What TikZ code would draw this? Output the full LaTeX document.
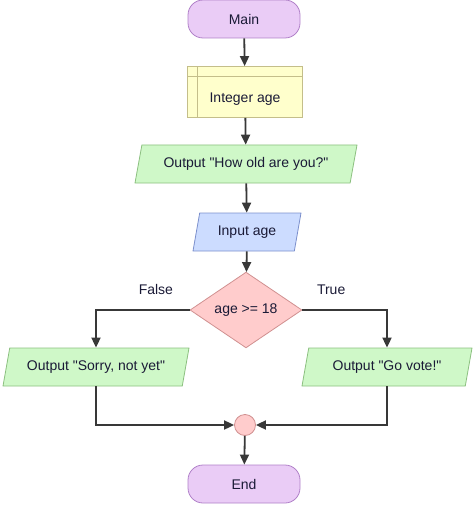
\documentclass[tikz,border=0pt]{standalone}
\usepackage{fontspec}
\setmainfont{Liberation Sans}[Ligatures=TeXOff]
\usepackage{tikz}
\usetikzlibrary{arrows.meta,positioning,shapes.geometric,calc}

\definecolor{termfill}{HTML}{EACCF6}
\definecolor{termdraw}{HTML}{B080C8}
\definecolor{declfill}{HTML}{FFFFCC}
\definecolor{decldraw}{HTML}{C4BE8A}
\definecolor{outfill}{HTML}{CFF8C8}
\definecolor{outdraw}{HTML}{8CC080}
\definecolor{infill}{HTML}{CCDCFF}
\definecolor{indraw}{HTML}{7C90CC}
\definecolor{decfill}{HTML}{FFCCCC}
\definecolor{decdraw}{HTML}{D09090}
\definecolor{linecol}{HTML}{383838}
\definecolor{txtcol}{HTML}{1A1A36}

\begin{document}
\begin{tikzpicture}[
    x=1pt, y=1pt,
    font=\fontsize{14}{16}\selectfont,
    baseblock/.style={draw, line width=0.8pt, text=txtcol, align=center,
                      inner sep=2pt},
    termblock/.style={baseblock, fill=termfill, draw=termdraw,
                      rounded corners=15pt, minimum width=112pt,
                      minimum height=38pt},
    declblock/.style={baseblock, fill=declfill, draw=decldraw,
                      minimum width=115pt, minimum height=51pt,
                      path picture={
                        \draw[decldraw, line width=0.8pt]
                          ([yshift=-10pt]path picture bounding box.north west)
                          -- ([yshift=-10pt]path picture bounding box.north east);
                        \draw[decldraw, line width=0.8pt]
                          ([xshift=10pt]path picture bounding box.north west)
                          -- ([xshift=10pt]path picture bounding box.south west);
                      }},
    ioblock/.style={baseblock, trapezium, trapezium left angle=68,
                    trapezium right angle=112, trapezium stretches body,
                    minimum height=38pt},
    outblock/.style={ioblock, fill=outfill, draw=outdraw},
    inblock/.style={ioblock, fill=infill, draw=indraw},
    decblock/.style={baseblock, diamond, fill=decfill, draw=decdraw,
                     minimum width=112pt, minimum height=56pt, inner sep=0pt},
    joinblock/.style={circle, draw=decdraw, fill=decfill, line width=0.8pt,
                      minimum size=21pt, inner sep=0pt},
    arrow/.style={-{Triangle[length=10pt,width=9pt]}, line width=1.8pt,
                  draw=linecol},
    lbl/.style={text=txtcol, inner sep=0pt},
  ]
    \useasboundingbox (0,0) rectangle (474,-505);

    % Start and declaration
    \node[termblock] (main) at (244,-19) {Main};
    \node[declblock] (decl) at (245,-92)
          {\raisebox{-7pt}[10pt][3pt]{Integer age}};

    % Ask and read the age
    \node[outblock, minimum width=222pt] (askage) at (246,-164)
          {Output "How old are you?"};
    \node[inblock, minimum width=108pt] (inage) at (247,-232) {Input age};

    % Decision and its two branches
    \node[decblock] (check) at (246,-310) {age >= 18};
    \node[outblock, minimum width=186pt] (notyet) at (96,-367)
          {Output "Sorry, not yet"};
    \node[outblock, minimum width=170pt] (govote) at (387,-367)
          {Output "Go vote!"};

    % Merge and end
    \node[joinblock] (join) at (245,-425) {};
    \node[termblock] (end) at (244,-484) {End};

    \draw[arrow] (main) -- (decl);
    \draw[arrow] (decl) -- (askage);
    \draw[arrow] (askage) -- (inage);
    \draw[arrow] (inage) -- (check);
    \draw[arrow] (check.west) -| (notyet)
          node[lbl, above=14pt, pos=0.18] {False};
    \draw[arrow] (check.east) -| (govote)
          node[lbl, above=14pt, pos=0.17] {True};
    \draw[arrow] (notyet) |- (join);
    \draw[arrow] (govote) |- (join);
    \draw[arrow] (join) -- (end);
  \end{tikzpicture}
\end{document}
